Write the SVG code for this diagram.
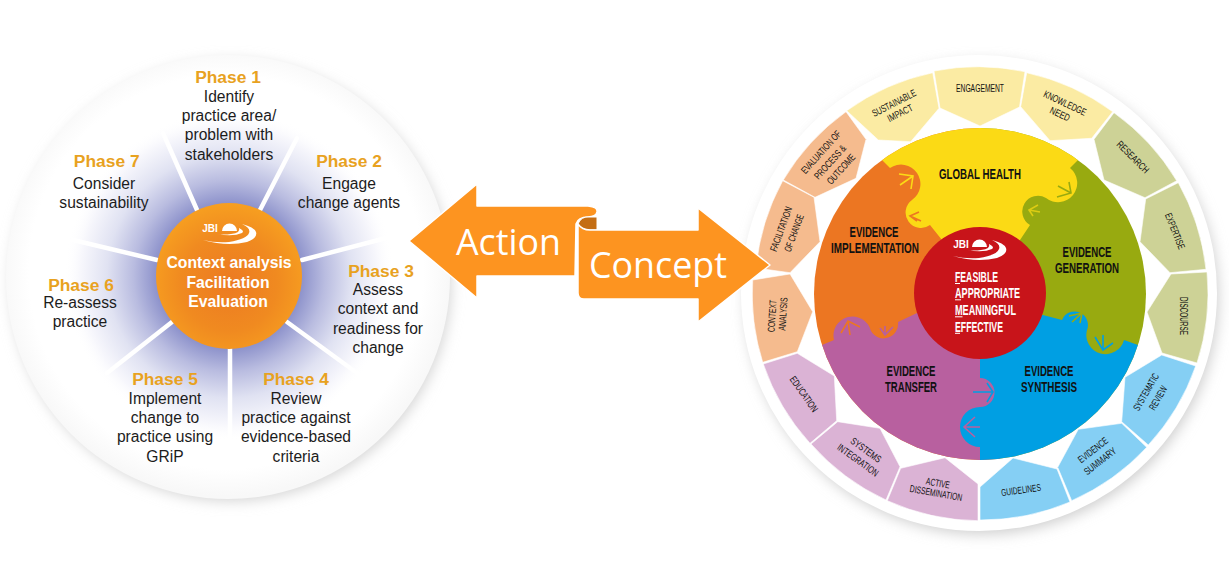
<svg xmlns="http://www.w3.org/2000/svg" xmlns:xlink="http://www.w3.org/1999/xlink" width="1229" height="563" viewBox="0 0 1229 563">
<style>
text{font-family:"Liberation Sans",Arial,sans-serif;text-anchor:middle}
.ph{font-size:17.4px;font-weight:700;fill:#e8a21f}
.bd{font-size:15.6px;fill:#1c1c1c}
.ct{font-size:15.75px;font-weight:700;fill:#fff}
.pt{font-size:10px;fill:#111}
.mn{font-size:15px;font-weight:700;fill:#111}
.rd{font-size:14px;font-weight:700;fill:#fff;text-anchor:start}
.ul{stroke:#fff;stroke-width:1}
.ar{font-family:"Open Sans","Noto Sans",sans-serif;font-size:37px;fill:#fff}
.sp{stroke:#fff;stroke-width:4.5;stroke-linecap:round}
.lk{fill:none;stroke-width:1.6}
.big{fill:#fd9420;stroke:#fff;stroke-width:1.5;stroke-linejoin:round}
.y{fill:#fbeba3}.o{fill:#f5bb8e}.g{fill:#cdd296}.b{fill:#85cff4}.v{fill:#dbb3d5}
.pe{stroke:#fff;stroke-width:.6}
</style>
<defs>
<radialGradient id="halo" gradientUnits="userSpaceOnUse" cx="229" cy="276" r="165">
<stop offset=".44" stop-color="#8d92cb"/><stop offset=".58" stop-color="#b9bce0"/><stop offset=".74" stop-color="#e0e2f2"/><stop offset=".9" stop-color="#f7f7fc"/><stop offset="1" stop-color="#fff" stop-opacity="0"/>
</radialGradient>
<radialGradient id="plate" gradientUnits="userSpaceOnUse" cx="226" cy="272" r="224">
<stop offset=".88" stop-color="#fff"/><stop offset="1" stop-color="#f8f8f8"/>
</radialGradient>
<radialGradient id="core" cx=".5" cy=".55" r=".55">
<stop offset="0" stop-color="#ec7a22"/><stop offset=".6" stop-color="#f08a20"/><stop offset="1" stop-color="#f79f20"/>
</radialGradient>
<filter id="sh" x="-10%" y="-10%" width="120%" height="120%"><feGaussianBlur stdDeviation="7"/></filter>
<clipPath id="disc"><circle cx="980" cy="294" r="166"/></clipPath>
<g id="logo" fill="#fff">
<path d="M-7 0A7.5 7.5 0 0 1 8 0Z"/>
<path d="M-26 9Q-2 16 18 11Q29 7 27 1Q25-4 13-7Q22-3 20 2Q18 8 0 11Q-14 12-26 9Z"/>
<path d="M-12 3Q4 6 13 2Q16 0 10-3Q12 2 2 3Q-5 4-12 3Z"/>
</g>
</defs>

<g id="phases-wheel">
<circle cx="231" cy="281" r="220" fill="#d4d4d4" filter="url(#sh)"/>
<circle cx="228" cy="277" r="222" fill="url(#plate)"/>
<circle cx="229" cy="276" r="165" fill="url(#halo)"/>
<g class="sp">
<line x1="163" y1="133" x2="197" y2="210"/><line x1="297" y1="138" x2="260" y2="210"/>
<line x1="390" y1="237" x2="302" y2="260"/><line x1="357" y1="373" x2="287" y2="322"/>
<line x1="230" y1="447" x2="230" y2="348"/><line x1="107" y1="373" x2="172" y2="322"/>
<line x1="73" y1="240" x2="157" y2="260"/>
</g>
</g>
<g id="phase-centre">
<circle cx="229" cy="276" r="73" fill="url(#core)"/>
<text x="210" y="232" font-size="10" font-weight="700" fill="#fff">JBI</text>
<use xlink:href="#logo" href="#logo" x="229" y="231"/>
<text class="ct" x="229" y="268">Context analysis</text>
<text class="ct" x="228" y="287.7">Facilitation</text>
<text class="ct" x="228" y="307">Evaluation</text>
</g>
<g id="phase-1"><text class="ph" x="228" y="83">Phase 1</text><text class="bd" x="229" y="101.7">Identify</text><text class="bd" x="229" y="121">practice area/</text><text class="bd" x="229" y="140">problem with</text><text class="bd" x="229" y="159.7">stakeholders</text></g>
<g id="phase-2"><text class="ph" x="349" y="167">Phase 2</text><text class="bd" x="349" y="189">Engage</text><text class="bd" x="349" y="208">change agents</text></g>
<g id="phase-3"><text class="ph" x="381" y="277">Phase 3</text><text class="bd" x="378" y="295">Assess</text><text class="bd" x="378" y="314">context and</text><text class="bd" x="378" y="333.7">readiness for</text><text class="bd" x="378" y="353">change</text></g>
<g id="phase-4"><text class="ph" x="296" y="385">Phase 4</text><text class="bd" x="296" y="403.7">Review</text><text class="bd" x="296" y="423">practice against</text><text class="bd" x="296" y="442.3">evidence-based</text><text class="bd" x="296" y="461.7">criteria</text></g>
<g id="phase-5"><text class="ph" x="165" y="385">Phase 5</text><text class="bd" x="165" y="403.7">Implement</text><text class="bd" x="165" y="423">change to</text><text class="bd" x="165" y="442.3">practice using</text><text class="bd" x="165" y="461.7">GRiP</text></g>
<g id="phase-6"><text class="ph" x="81" y="290.7">Phase 6</text><text class="bd" x="80" y="307.7">Re-assess</text><text class="bd" x="80" y="327">practice</text></g>
<g id="phase-7"><text class="ph" x="106.7" y="167">Phase 7</text><text class="bd" x="104" y="189">Consider</text><text class="bd" x="104" y="208">sustainability</text></g>

<g id="concept-wheel">
<circle cx="982" cy="298" r="236" fill="#cdcdcd" filter="url(#sh)"/>
<circle cx="979" cy="293" r="238" fill="#fff"/>
</g>
<g id="petal-sustainable-impact"><path class="y pe" d="M846.7 110.7A227 227 0 0 1 932.7 72.7L939 108.3L910.7 141.7L878.3 140Z"/><text class="pt" transform="translate(894 103) rotate(-27)" y="3.5" textLength="48" lengthAdjust="spacingAndGlyphs">SUSTAINABLE</text><text class="pt" transform="translate(900 113) rotate(-27)" y="3.5" textLength="27" lengthAdjust="spacingAndGlyphs">IMPACT</text></g>
<g id="petal-engagement"><path class="y pe" d="M934 71A227 227 0 0 1 1025 71.7L1019.5 107L980 126L940 108Z"/><text class="pt" x="980" y="92" textLength="48" lengthAdjust="spacingAndGlyphs">ENGAGEMENT</text></g>
<g id="petal-knowledge-need"><path class="y pe" d="M1026.7 72.7A227 227 0 0 1 1112.7 111.7L1091.7 138.3L1050 140.7L1020.7 106.7Z"/><text class="pt" transform="translate(1065 103) rotate(25)" y="3.5" textLength="46" lengthAdjust="spacingAndGlyphs">KNOWLEDGE</text><text class="pt" transform="translate(1060 114) rotate(25)" y="3.5" textLength="21" lengthAdjust="spacingAndGlyphs">NEED</text></g>
<g id="petal-research"><path class="g pe" d="M1114 112.7A227 227 0 0 1 1176.7 180.7L1145 197.7L1104 180L1094 139.3Z"/><text class="pt" transform="translate(1133 157) rotate(45)" y="3.5" textLength="41" lengthAdjust="spacingAndGlyphs">RESEARCH</text></g>
<g id="petal-expertise"><path class="g pe" d="M1178.3 182.7A227 227 0 0 1 1206 269.3L1170 272.7L1140 241.7L1145.7 199Z"/><text class="pt" transform="translate(1175 231) rotate(68)" y="3.5" textLength="38" lengthAdjust="spacingAndGlyphs">EXPERTISE</text></g>
<g id="petal-discourse"><path class="g pe" d="M1207 272A227 227 0 0 1 1197 363L1162 353L1147 312L1171 274Z"/><text class="pt" transform="translate(1183 316) rotate(90)" y="3.5" textLength="38" lengthAdjust="spacingAndGlyphs">DISCOURSE</text></g>
<g id="petal-systematic-review"><path class="b pe" d="M1195.7 366A227 227 0 0 1 1148.3 445L1121.7 421.7L1125 377.3L1161.7 355Z"/><text class="pt" transform="translate(1146 392) rotate(-60)" y="3.5" textLength="41" lengthAdjust="spacingAndGlyphs">SYSTEMATIC</text><text class="pt" transform="translate(1158 398) rotate(-60)" y="3.5" textLength="26" lengthAdjust="spacingAndGlyphs">REVIEW</text></g>
<g id="petal-evidence-summary"><path class="b pe" d="M1146.7 447.3A227 227 0 0 1 1071.7 500.7L1057.7 467.3L1078.3 429.3L1121.7 423.3Z"/><text class="pt" transform="translate(1093 450) rotate(-38)" y="3.5" textLength="35" lengthAdjust="spacingAndGlyphs">EVIDENCE</text><text class="pt" transform="translate(1100 461) rotate(-38)" y="3.5" textLength="38" lengthAdjust="spacingAndGlyphs">SUMMARY</text></g>
<g id="petal-guidelines"><path class="b pe" d="M1070 502A227 227 0 0 1 980 520L980 487L1013 458L1057 469Z"/><text class="pt" transform="translate(1021 490) rotate(-8)" y="3.5" textLength="40" lengthAdjust="spacingAndGlyphs">GUIDELINES</text></g>
<g id="petal-active-dissemination"><path class="v pe" d="M978 520.7A227 227 0 0 1 887.3 500.7L900.7 468.3L945 457.7L978 484Z"/><text class="pt" transform="translate(938 483) rotate(10)" y="3.5" textLength="24" lengthAdjust="spacingAndGlyphs">ACTIVE</text><text class="pt" transform="translate(936 493) rotate(10)" y="3.5" textLength="53" lengthAdjust="spacingAndGlyphs">DISSEMINATION</text></g>
<g id="petal-systems-integration"><path class="v pe" d="M886 500A227 227 0 0 1 811 444L837.7 421.7L880 428.3L900 466.7Z"/><text class="pt" transform="translate(866 450) rotate(36)" y="3.5" textLength="35" lengthAdjust="spacingAndGlyphs">SYSTEMS</text><text class="pt" transform="translate(858 460) rotate(36)" y="3.5" textLength="48" lengthAdjust="spacingAndGlyphs">INTEGRATION</text></g>
<g id="petal-education"><path class="v pe" d="M810 443.3A227 227 0 0 1 763.3 364L797.3 353.3L834.3 376L836.7 420.7Z"/><text class="pt" transform="translate(804 394) rotate(55)" y="3.5" textLength="41" lengthAdjust="spacingAndGlyphs">EDUCATION</text></g>
<g id="petal-context-analysis"><path class="o pe" d="M762.7 362.3A227 227 0 0 1 752.7 280L790 274L812.7 311.7L797.3 351.7Z"/><text class="pt" transform="translate(772 316) rotate(-86)" y="3.5" textLength="32" lengthAdjust="spacingAndGlyphs">CONTEXT</text><text class="pt" transform="translate(783 314) rotate(-86)" y="3.5" textLength="33" lengthAdjust="spacingAndGlyphs">ANALYSIS</text></g>
<g id="petal-facilitation-of-change"><path class="o pe" d="M756 268A227 227 0 0 1 782.7 180.7L814 197.3L820 241.7L790 272.7Z"/><text class="pt" transform="translate(781 229) rotate(-70)" y="3.5" textLength="47" lengthAdjust="spacingAndGlyphs">FACILITATION</text><text class="pt" transform="translate(794 233) rotate(-70)" y="3.5" textLength="39" lengthAdjust="spacingAndGlyphs">OF CHANGE</text></g>
<g id="petal-evaluation"><path class="o pe" d="M846 111.7L866 139.3L856 178.3L815 197.3L783.3 180A227 227 0 0 1 846 111.7Z"/><text class="pt" transform="translate(821 152) rotate(-48)" y="3.5" textLength="54" lengthAdjust="spacingAndGlyphs">EVALUATION OF</text><text class="pt" transform="translate(830 162) rotate(-48)" y="3.5" textLength="42" lengthAdjust="spacingAndGlyphs">PROCESS &amp;</text><text class="pt" transform="translate(841 169) rotate(-48)" y="3.5" textLength="37" lengthAdjust="spacingAndGlyphs">OUTCOME</text></g>

<g id="evidence-disc" clip-path="url(#disc)">
<rect x="800" y="110" width="180" height="370" fill="#ec7622"/>
<rect x="980" y="110" width="180" height="370" fill="#98aa10"/>
<path fill="#b8609f" d="M822 345L834 340A19 19 0 1 1 871 331A14.5 14.5 0 0 0 898 322L917 313L980 300V360H1000V480H800V345Z"/>
<path fill="#009fe3" d="M1043 315L1062 320A13 13 0 1 1 1087 330A19 19 0 0 0 1124 340L1138 345L1180 360V500H980V447A20 20 0 0 1 980 407A14.5 14.5 0 0 0 980 378V330Z"/>
<path fill="#fbda15" d="M882 160L860 100H1100L1078 160L1070 168A19 19 0 1 1 1046 198A14 14 0 1 0 1030 225L1020 240L980 293L942 240L930 225A12.5 12.5 0 1 1 912 200A18 18 0 1 0 890 168Z"/>
<g class="lk">
<path stroke="#fbda15" d="M899 174L913 176L911 189M900 185L913 176"/>
<path stroke="#ec7622" d="M919 212L910 216L917 221M921 221L910 216"/>
<path stroke="#98aa10" d="M1069 182L1071 193L1057 197M1058 186L1071 193"/>
<path stroke="#fbda15" stroke-opacity=".7" d="M1038 205L1029 210L1033 216M1040 212L1029 210"/>
<path stroke="#98aa10" d="M1069 316L1082 313L1080 323M1072 322L1082 313"/>
<path stroke="#009fe3" d="M1095 337L1103 350L1113 343M1103 335L1103 350"/>
<path stroke="#ec7622" d="M841 333L848 321L860 327M850 335L848 321"/>
<path stroke="#b8609f" d="M880 328L885 335L893 327M885 326L885 335"/>
<path stroke="#009fe3" d="M987 383L993 392L987 402M973 392H993"/>
<path stroke="#b8609f" d="M975 417L964 427L975 437M980 427H964"/>
</g>
</g>
<g id="global-health"><text class="mn" x="980" y="179" textLength="82" lengthAdjust="spacingAndGlyphs">GLOBAL HEALTH</text></g>
<g id="evidence-implementation"><text class="mn" x="874" y="237" textLength="49" lengthAdjust="spacingAndGlyphs">EVIDENCE</text><text class="mn" x="875" y="252.5" textLength="88" lengthAdjust="spacingAndGlyphs">IMPLEMENTATION</text></g>
<g id="evidence-generation"><text class="mn" x="1087" y="257" textLength="49" lengthAdjust="spacingAndGlyphs">EVIDENCE</text><text class="mn" x="1087" y="272.5" textLength="64" lengthAdjust="spacingAndGlyphs">GENERATION</text></g>
<g id="evidence-transfer"><text class="mn" x="911" y="376" textLength="49" lengthAdjust="spacingAndGlyphs">EVIDENCE</text><text class="mn" x="911" y="391.5" textLength="52" lengthAdjust="spacingAndGlyphs">TRANSFER</text></g>
<g id="evidence-synthesis"><text class="mn" x="1049" y="376" textLength="49" lengthAdjust="spacingAndGlyphs">EVIDENCE</text><text class="mn" x="1049" y="391.5" textLength="56" lengthAdjust="spacingAndGlyphs">SYNTHESIS</text></g>
<g id="feasible-centre">
<circle cx="980" cy="293" r="66" fill="#c8141a"/>
<text x="961" y="248" font-size="10" font-weight="700" fill="#fff">JBI</text>
<use xlink:href="#logo" href="#logo" x="979" y="247"/>
<text class="rd" x="955" y="281.7" textLength="43" lengthAdjust="spacingAndGlyphs">FEASIBLE</text>
<text class="rd" x="955" y="298" textLength="65" lengthAdjust="spacingAndGlyphs">APPROPRIATE</text>
<text class="rd" x="955" y="315" textLength="61" lengthAdjust="spacingAndGlyphs">MEANINGFUL</text>
<text class="rd" x="955" y="331.5" textLength="48" lengthAdjust="spacingAndGlyphs">EFFECTIVE</text>
<path class="ul" d="M955 283.5h5M955 299.8h6M955 316.8h7.5M955 333.3h5"/>
</g>

<g id="connectors">
<path class="big" d="M409 241L477 184V206H588Q598 207 597 212Q596 217 588 217Q578 217 576 224L575 276H477V298Z"/>
<path fill="#c46e14" stroke="#fff" stroke-width="1" d="M578 224Q581 216 590 217H597V230H590Q581 230 578 224Z"/>
<path class="big" d="M578 224Q582 230 590 230H698V208L770 265L698 322V299H584Q578 299 578 293Z"/>
<text class="ar" x="508.5" y="255" textLength="105" lengthAdjust="spacingAndGlyphs">Action</text>
<text class="ar" x="658" y="278" textLength="138" lengthAdjust="spacingAndGlyphs">Concept</text>
</g>
</svg>
